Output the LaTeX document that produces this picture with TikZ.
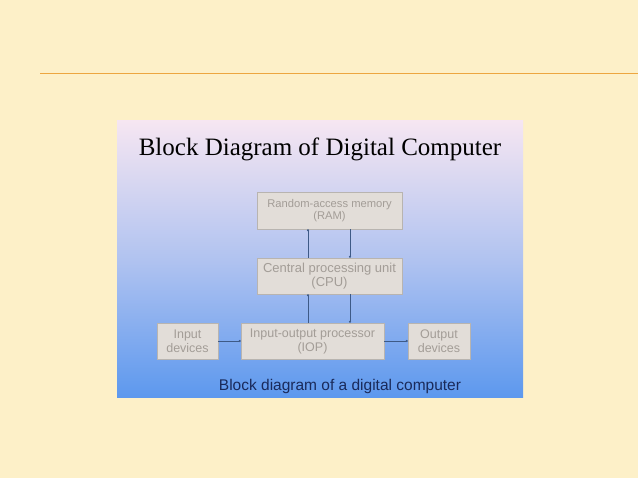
\documentclass[tikz,border=0pt]{standalone}
\usepackage{fontspec}
\setmainfont{Liberation Serif}
\setsansfont{Liberation Sans}
\usetikzlibrary{arrows.meta}
\definecolor{cream}{HTML}{FDF0C8}
\definecolor{rulecol}{HTML}{EDA640}
\definecolor{boxfill}{HTML}{E2DDD8}
\definecolor{boxline}{HTML}{B8B4B0}
\definecolor{boxtext}{HTML}{A39D97}
\definecolor{linkcol}{HTML}{3E5A86}
\definecolor{capcol}{HTML}{1A2A5A}
\definecolor{paneltop}{HTML}{F6E6F2}
\definecolor{panelbot}{HTML}{5C98EE}
\tikzset{
  blk/.style={draw=boxline, fill=boxfill, line width=0.6pt, text=boxtext,
    font=\sffamily\fontsize{13}{14}\selectfont, align=center, inner sep=0pt},
  link/.style={draw=linkcol, line width=0.5pt, -{Circle[length=2pt]}},
}
\begin{document}
\begin{tikzpicture}[x=1pt,y=-1pt]
\fill[cream] (0,0) rectangle (638,478);
\useasboundingbox (0,0) rectangle (638,478);
\draw[rulecol, line width=0.8pt] (40,73) -- (638,73);
% panel
\shade[top color=paneltop, bottom color=panelbot, middle color=panelbot!45!paneltop] (117,121) rectangle (523,398);
\node (title) at (320,149) {\fontsize{25}{28}\selectfont Block Diagram of Digital Computer};
\node[blk, minimum width=145pt, minimum height=37pt, font=\sffamily\fontsize{11.2}{12.5}\selectfont] (ram) at (329.5,210.5) {Random-access memory\\(RAM)};
\node[blk, minimum width=145pt, minimum height=36pt] (cpu) at (329.5,276) {Central processing unit\\(CPU)};
\node[blk, minimum width=143pt, minimum height=36pt, font=\sffamily\fontsize{12.5}{14}\selectfont] (iop) at (312.5,341) {Input-output processor\\(IOP)};
\node[blk, minimum width=61pt, minimum height=36pt, font=\sffamily\fontsize{12.5}{14}\selectfont] (inp) at (187.5,341) {Input\\devices};
\node[blk, minimum width=62pt, minimum height=36pt, font=\sffamily\fontsize{12.5}{14}\selectfont] (out) at (439,341) {Output\\devices};
\draw[link] (cpu.north -| 308,0) -- (ram.south -| 308,0);
\draw[link] (ram.south -| 350,0) -- (cpu.north -| 350,0);
\draw[link] (iop.north -| 308,0) -- (cpu.south -| 308,0);
\draw[link] (cpu.south -| 350,0) -- (iop.north -| 350,0);
\draw[link] (inp.east) -- (iop.west);
\draw[link] (iop.east) -- (out.west);
\node[text=capcol, font=\sffamily\fontsize{15.5}{18}\selectfont] (cap) at (340,386) {Block diagram of a digital computer};
\end{tikzpicture}
\end{document}
